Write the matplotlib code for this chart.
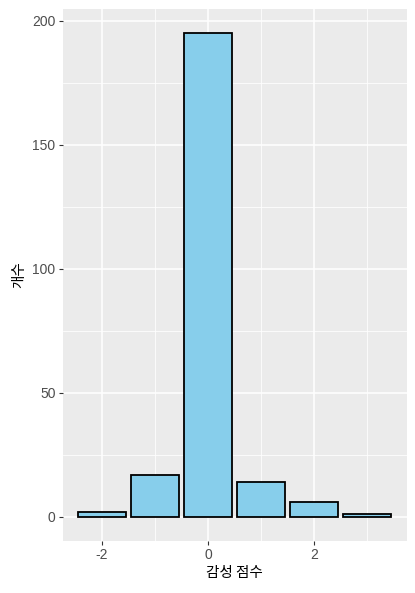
import numpy as np
import matplotlib.pyplot as plt
from matplotlib.ticker import FixedLocator

plt.rcParams['font.family'] = ['Noto Sans CJK KR', 'DejaVu Sans']
plt.rcParams['axes.unicode_minus'] = False

# ── Data ────────────────────────────────────────────
scores = [-2, -1, 0, 1, 2, 3]
counts = [2, 17, 195, 14, 6, 1]
x_ticks = [-2, 0, 2]
y_ticks = [0, 50, 100, 150, 200]

# ── Figure ──────────────────────────────────────────
fig = plt.figure(figsize=(4.15, 5.93), dpi=100)
ax = fig.add_axes([62.5 / 415, 52 / 593, 344 / 415, 532 / 593])
ax.set_facecolor('#EBEBEB')

ax.bar(scores, counts, width=0.9, color='#87CEEB', edgecolor='black',
       linewidth=1.3, zorder=3)

xmin, xmax = min(scores) - 0.45, max(scores) + 0.45
xpad = (xmax - xmin) * 0.05
ax.set_xlim(xmin - xpad, xmax + xpad)
ypad = max(counts) * 0.05
ax.set_ylim(-ypad, max(counts) + ypad)

ax.xaxis.set_major_locator(FixedLocator(x_ticks))
ax.yaxis.set_major_locator(FixedLocator(y_ticks))
ax.xaxis.set_minor_locator(FixedLocator([-1, 1, 3]))
ax.yaxis.set_minor_locator(FixedLocator([25, 75, 125, 175]))

ax.grid(which='major', color='white', linewidth=1.1, zorder=0)
ax.grid(which='minor', color='white', linewidth=0.55, zorder=0)
ax.set_axisbelow(True)

for s in ax.spines.values():
    s.set_visible(False)

ax.tick_params(which='major', length=3, width=0.8, color='#333333',
               labelcolor='#4D4D4D', labelsize=10, pad=2)
ax.tick_params(which='minor', length=0)
for lab in ax.get_xticklabels() + ax.get_yticklabels():
    lab.set_family(['Liberation Sans', 'DejaVu Sans'])

ax.set_xlabel('감성 점수', fontsize=10.5, color='black', labelpad=3)
ax.set_ylabel('개수', fontsize=10.5, color='black', labelpad=4)

fig.savefig('out.png', dpi=100, facecolor='white')
